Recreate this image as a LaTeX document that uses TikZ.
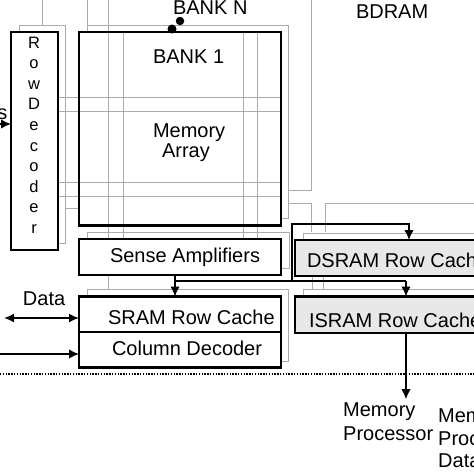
\documentclass[tikz,border=0pt]{standalone}
\usepackage{fontspec}
\setmainfont{Liberation Sans}
\usetikzlibrary{arrows.meta}
\begin{document}
\begin{tikzpicture}[x=1pt,y=-1pt,
  font=\fontsize{20}{24}\selectfont,
  blkbox/.style={draw=black, line width=2.6pt, inner sep=0pt, outer sep=0pt, anchor=north west},
  greybox/.style={blkbox, fill=black!9},
  txt/.style={inner sep=0pt, outer sep=0pt, anchor=base west},
  rdl/.style={inner sep=0pt, anchor=base, font=\fontsize{16.5}{18}\selectfont},
  stack/.style={draw=black!33, line width=1pt},
  conn/.style={draw=black, line width=1.6pt},
  arr/.style={-{Latex[length=10pt,width=9.5pt]}},
  dbl/.style={{Latex[length=10pt,width=9pt]}-{Latex[length=10pt,width=9pt]}},
  dot/.style={circle, fill=black, inner sep=0pt},
]
\useasboundingbox (0,0) rectangle (474,474);
\clip (0,0) rectangle (474,474);

% ---- stacked (grey) outlines of the further banks ----
\draw[stack] (19,32)--(19,25)--(65,25)--(65,243)--(58,243);
\draw[stack] (42,0)--(42,25);
\draw[stack] (65,208)--(79,208);
\draw[stack] (87,0)--(87,32);
\draw[stack] (87,25)--(288,25)--(288,218)--(281,218);
\draw[stack] (108,0)--(108,239);
\draw[stack] (123,32)--(123,239);
\draw[stack] (243,32)--(243,239);
\draw[stack] (257,32)--(257,239);
\draw[stack] (58,97)--(281,97);
\draw[stack] (58,111)--(281,111);
\draw[stack] (58,182)--(281,182);
\draw[stack] (58,196)--(281,196);
\draw[stack] (87,239)--(87,232)--(289,232)--(289,268)--(282,268);
\draw[stack] (108,275)--(108,289);
\draw[stack] (87,296)--(87,289)--(288,289)--(288,361)--(281,361);
\draw[stack] (311,0)--(311,190)--(288,190);
\draw[stack] (288,203)--(311,203)--(311,232);
\draw[stack] (325,232)--(325,203)--(480,203);
\draw[stack] (303,240)--(303,233)--(480,233);
\draw[stack] (312,276)--(312,289);
\draw[stack] (323,276)--(323,289);
\draw[stack] (303,296)--(303,289)--(480,289);

% ---- boxes ----
\node[blkbox, fill=white, minimum width=47pt, minimum height=218pt] (rowdec) at (11,32) {};
\node[blkbox, minimum width=202pt, minimum height=193.5pt] (bank) at (79,32) {};
\node[blkbox, fill=white, minimum width=202pt, minimum height=36pt] (sense) at (79,239) {};
\node[blkbox, fill=white, minimum width=202pt, minimum height=35.5pt] (sram) at (79,296.5) {};
\node[blkbox, fill=white, minimum width=202pt, minimum height=35.5pt] (coldec) at (79,332) {};
\node[greybox, minimum width=210pt, minimum height=36pt] (dsram) at (295,240) {};
\node[greybox, minimum width=210pt, minimum height=36.5pt] (isram) at (295,296.5) {};

% ---- texts ----
\foreach \c [count=\i] in {R,o,w,D,e,c,o,d,e,r}
  \node[rdl] (rd\i) at (34,{48+(\i-1)*20.6}) {\c};
\node[txt] (bankn) at (173,14) {BANK N};
\node[txt] (bdram) at (356,18.5) {BDRAM};
\node[txt] (bank1) at (153,63) {BANK 1};
\node[txt] (memtxt) at (153,137) {Memory};
\node[txt] (arrtxt) at (162,157) {Array};
\node[txt] (sensetxt) at (110,262) {Sense Amplifiers};
\node[txt] (sramtxt) at (108,324) {SRAM Row Cache};
\node[txt] (coltxt) at (112,355) {Column Decoder};
\node[txt] (dsramtxt) at (307,267) {DSRAM Row Cache};
\node[txt] (isramtxt) at (309,327.5) {ISRAM Row Cache};
\node[txt] (datatxt) at (23,305.5) {Data};
\node[txt, anchor=base east] (addrtxt) at (7.5,119) {s};
\node[inner sep=0pt, anchor=north west, align=left, font=\fontsize{20}{24}\selectfont] (mproc) at (343,402.7) {Memory\\Processor};
\node[inner sep=0pt, anchor=north west, align=left, font=\fontsize{20}{22.5}\selectfont] (mpdata) at (438,408.7) {Memory\\Processor\\Data};

% ---- dots (bank stack) ----
\node[dot, minimum size=9pt] (dot1) at (172,29) {};
\node[dot, minimum size=8.5pt] (dot2) at (180,21) {};

% ---- connectors ----
\coordinate (jA) at (175,281);
\coordinate (jB) at (292,281);
\coordinate (jC) at (292,224);
\coordinate (jD) at (406,281);
\coordinate (jE) at (409,224);
\coordinate (dataL) at (4,318);
\coordinate (colL) at (0,354);
\coordinate (adrL) at (0,124);
\coordinate (sepL) at (0,374);
\coordinate (sepR) at (474,374);

\draw[conn, arr] (jA |- sense.south) -- (jA |- sram.north);
\draw[conn] (jA) -- (jD);
\draw[conn, arr] (jD) -- (jD |- isram.north);
\draw[conn, arr] (jB) -- (jC) -- (jE) -- (jE |- dsram.north);
\draw[conn, arr, shorten >=3.5pt] (jD |- isram.south) -- (jD |- mproc.north);
\draw[conn, dbl] (dataL) -- (dataL -| sram.west);
\draw[conn, arr] (colL) -- (colL -| coldec.west);
\draw[conn, arr] (adrL) -- (adrL -| rowdec.west);
\draw[line width=1.6pt, dash pattern=on 1.4pt off 1.4pt] (sepL) -- (sepR);
\end{tikzpicture}
\end{document}
